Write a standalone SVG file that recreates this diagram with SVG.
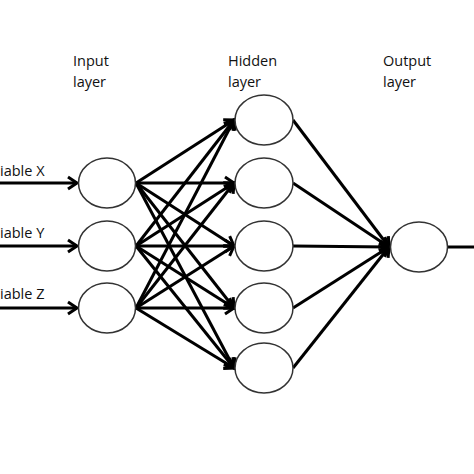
<svg xmlns="http://www.w3.org/2000/svg" width="474" height="474" viewBox="0 0 474 474">
<defs>
<marker id="arr" markerUnits="userSpaceOnUse" markerWidth="20" markerHeight="20" viewBox="-12 -10 14 20" refX="0" refY="0" orient="auto">
<path d="M-9,-6 L0,0 L-9,6" fill="none" stroke="#000" stroke-width="3" stroke-linejoin="miter"/>
</marker>
</defs>
<style>
.node ellipse{fill:#fff;stroke:#333;stroke-width:1.5}
.edge{stroke:#000;stroke-width:3;fill:none}
.arrow{marker-end:url(#arr)}
text{font-family:"Open Sans","Liberation Sans",sans-serif;font-size:14.5px;fill:#111}
</style>
<rect width="474" height="474" fill="#fff"/>
<g id="labels">
<text x="73" y="66">Input</text>
<text x="73" y="87">layer</text>
<text x="228" y="66">Hidden</text>
<text x="228" y="87">layer</text>
<text x="383" y="66">Output</text>
<text x="383" y="87">layer</text>
<text x="0" y="176">iable X</text>
<text x="0" y="238">iable Y</text>
<text x="0" y="299">iable Z</text>
</g>
<g id="connectors">
<line class="edge arrow" x1="0" y1="183" x2="77" y2="183"/>
<line class="edge arrow" x1="0" y1="246" x2="77" y2="246"/>
<line class="edge arrow" x1="0" y1="308" x2="77" y2="308"/>
<line class="edge arrow" x1="136" y1="183" x2="234" y2="120"/>
<line class="edge arrow" x1="136" y1="183" x2="234" y2="183"/>
<line class="edge arrow" x1="136" y1="183" x2="234" y2="246"/>
<line class="edge arrow" x1="136" y1="183" x2="234" y2="308"/>
<line class="edge arrow" x1="136" y1="183" x2="234" y2="368"/>
<line class="edge arrow" x1="136" y1="246" x2="234" y2="120"/>
<line class="edge arrow" x1="136" y1="246" x2="234" y2="183"/>
<line class="edge arrow" x1="136" y1="246" x2="234" y2="246"/>
<line class="edge arrow" x1="136" y1="246" x2="234" y2="308"/>
<line class="edge arrow" x1="136" y1="246" x2="234" y2="368"/>
<line class="edge arrow" x1="136" y1="308" x2="234" y2="120"/>
<line class="edge arrow" x1="136" y1="308" x2="234" y2="183"/>
<line class="edge arrow" x1="136" y1="308" x2="234" y2="246"/>
<line class="edge arrow" x1="136" y1="308" x2="234" y2="308"/>
<line class="edge arrow" x1="136" y1="308" x2="234" y2="368"/>
<line class="edge arrow" x1="293" y1="120" x2="389" y2="247"/>
<line class="edge arrow" x1="293" y1="183" x2="389" y2="247"/>
<line class="edge arrow" x1="293" y1="246" x2="389" y2="247"/>
<line class="edge arrow" x1="293" y1="308" x2="389" y2="247"/>
<line class="edge arrow" x1="293" y1="368" x2="389" y2="247"/>
<line class="edge" x1="447" y1="247" x2="474" y2="247"/>
</g>
<g id="input-x" class="node"><ellipse cx="107" cy="183" rx="28.5" ry="25"/></g>
<g id="input-y" class="node"><ellipse cx="107" cy="246" rx="28.5" ry="25"/></g>
<g id="input-z" class="node"><ellipse cx="107" cy="308" rx="28.5" ry="25"/></g>
<g id="hidden-1" class="node"><ellipse cx="264" cy="120" rx="29" ry="25"/></g>
<g id="hidden-2" class="node"><ellipse cx="264" cy="183" rx="29" ry="25"/></g>
<g id="hidden-3" class="node"><ellipse cx="264" cy="246" rx="29" ry="25"/></g>
<g id="hidden-4" class="node"><ellipse cx="264" cy="308" rx="29" ry="25"/></g>
<g id="hidden-5" class="node"><ellipse cx="264" cy="368" rx="29" ry="25"/></g>
<g id="output" class="node"><ellipse cx="419" cy="247" rx="28.5" ry="25"/></g>
</svg>
